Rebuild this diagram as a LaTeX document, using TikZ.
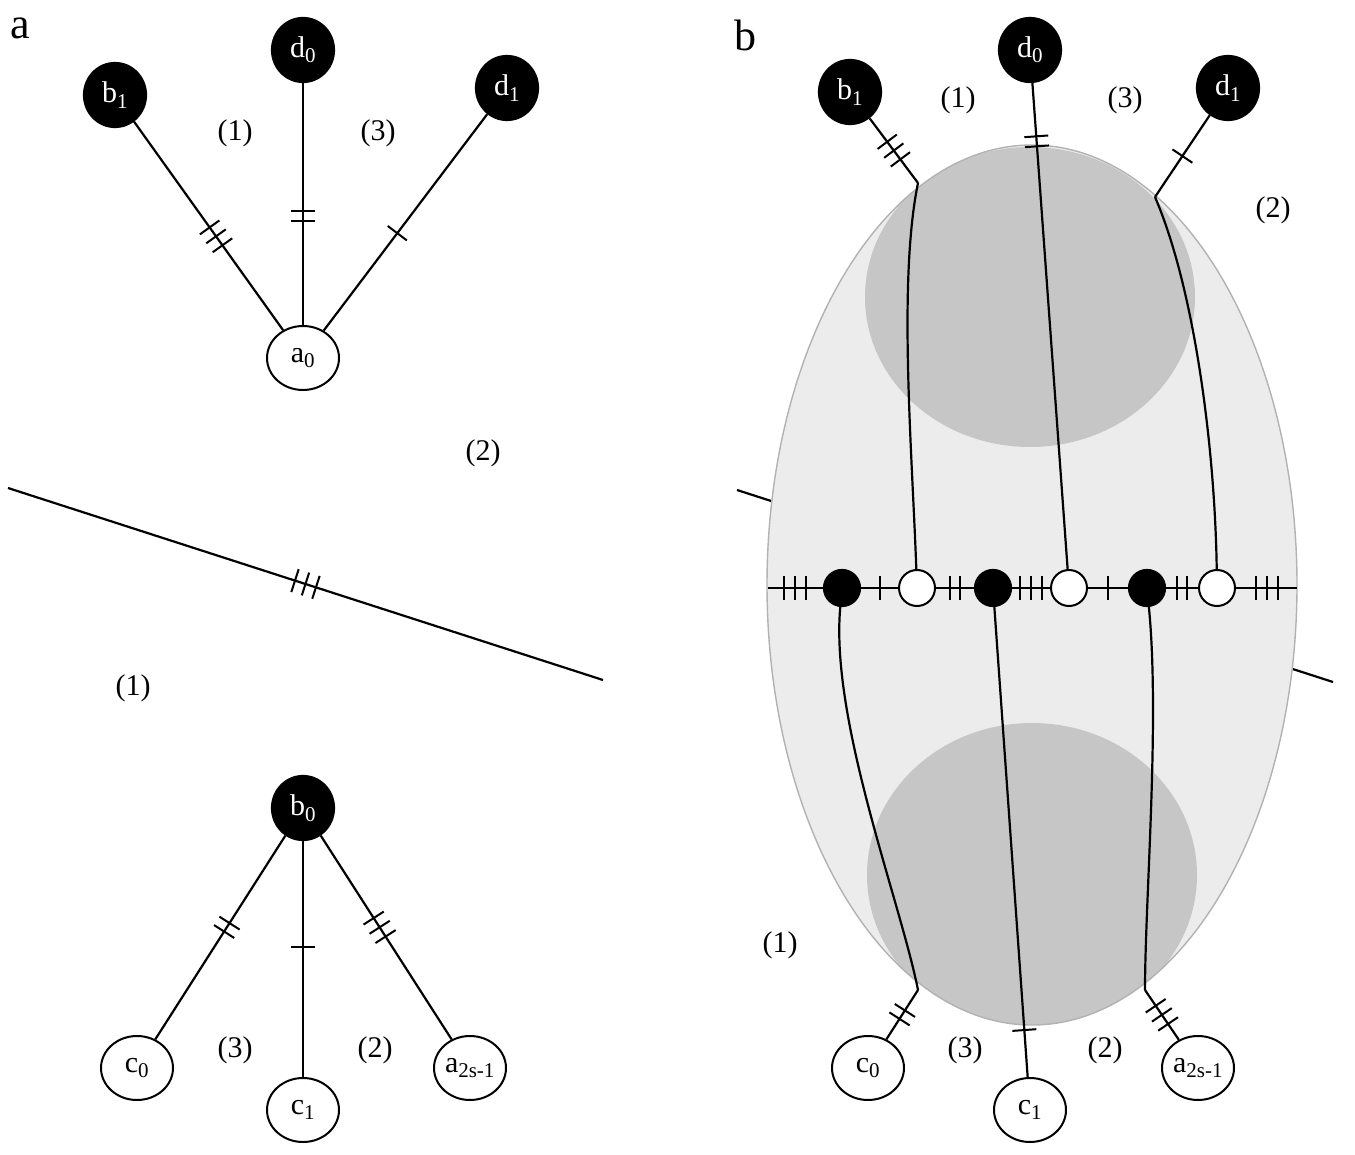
\documentclass[tikz,border=0pt]{standalone}
\usepackage{fontspec}
\setmainfont{Liberation Serif}
\usetikzlibrary{decorations.markings,shapes.geometric}
\begin{document}
\begin{tikzpicture}[x=1pt,y=-1pt,line width=2.2pt,
  every node/.style={font=\fontsize{30}{34}\selectfont},
  bn/.style={ellipse,draw=black,fill=black,text=white,minimum width=62,minimum height=64,inner sep=0},
  wn/.style={ellipse,draw=black,fill=white,minimum width=72,minimum height=64,inner sep=0,line width=2pt},
  bs/.style={circle,draw=black,fill=black,minimum size=36,inner sep=0},
  ws/.style={circle,draw=black,fill=white,minimum size=36,inner sep=0,line width=2pt},
  lab/.style={font=\fontsize{30}{34}\selectfont},
  big/.style={font=\fontsize{44}{48}\selectfont},
  t1/.style={postaction={decorate,decoration={markings,mark=at position #1 with {\draw[line width=2pt] (0,-12)--(0,12);}}}},
  t2/.style={postaction={decorate,decoration={markings,mark=at position #1 with {\draw[line width=2pt] (-5,-12)--(-5,12) (5,-12)--(5,12);}}}},
  t3/.style={postaction={decorate,decoration={markings,mark=at position #1 with {\draw[line width=2pt] (-11,-12)--(-11,12) (0,-12)--(0,12) (11,-12)--(11,12);}}}},
]
\useasboundingbox (0,0) rectangle (1355,1155);
% ---- panel a
\node[big] (la) at (20,28) {a};
\node[bn] (ab1) at (115,95) {b\textsubscript{1}};
\node[bn] (ad0) at (303,50) {d\textsubscript{0}};
\node[bn] (ad1) at (507,88) {d\textsubscript{1}};
\node[wn] (aa0) at (303,358) {a\textsubscript{0}};
\draw[t3=0.45] (aa0) -- (ab1);
\draw[t2=0.45] (aa0) -- (ad0);
\draw[t1=0.45] (aa0) -- (ad1);
\node[lab] at (235,133) {(1)};
\node[lab] at (378,133) {(3)};
\node[lab] at (483,453) {(2)};
\coordinate (L1) at (8,488);
\coordinate (L2) at (603,680);
\draw[t3=0.5] (L1) -- (L2);
\node[lab] at (133,688) {(1)};
\node[bn] (ab0) at (303,808) {b\textsubscript{0}};
\node[wn] (ac0) at (137,1068) {c\textsubscript{0}};
\node[wn] (ac1) at (303,1110) {c\textsubscript{1}};
\node[wn] (aa2) at (470,1068) {a\textsubscript{2s-1}};
\draw[t2=0.55] (ac0) -- (ab0);
\draw[t1=0.55] (ac1) -- (ab0);
\draw[t3=0.55] (aa2) -- (ab0);
\node[lab] at (235,1050) {(3)};
\node[lab] at (375,1050) {(2)};
% ---- panel b
\node[big] (lb) at (745,35) {b};
\coordinate (M1) at (737,490);
\coordinate (M2) at (1333,682);
\draw (M1) -- (M2);
\begin{scope}
  \fill[gray!15] (1032,585) ellipse [x radius=265,y radius=440];
  \clip (1032,585) ellipse [x radius=265,y radius=440];
  \fill[gray!45] (1030,297) ellipse [x radius=165,y radius=150];
  \fill[gray!45] (1032,875) ellipse [x radius=165,y radius=152];
\end{scope}
\draw[gray!60,line width=1.4pt] (1032,585) ellipse [x radius=265,y radius=440];
\coordinate (H1) at (768,588);
\coordinate (H2) at (1297,588);
\node[bs] (k1) at (842,588) {};
\node[ws] (w1) at (917,588) {};
\node[bs] (k2) at (993,588) {};
\node[ws] (w2) at (1069,588) {};
\node[bs] (k3) at (1147,588) {};
\node[ws] (w3) at (1217,588) {};
\draw[t3=0.5] (H1) -- (k1);
\draw[t1=0.5] (k1) -- (w1);
\draw[t2=0.5] (w1) -- (k2);
\draw[t3=0.5] (k2) -- (w2);
\draw[t1=0.5] (w2) -- (k3);
\draw[t2=0.5] (k3) -- (w3);
\draw[t3=0.5] (w3) -- (H2);
\node[bn] (bb1) at (850,92) {b\textsubscript{1}};
\node[bn] (bd0) at (1030,50) {d\textsubscript{0}};
\node[bn] (bd1) at (1228,88) {d\textsubscript{1}};
\coordinate (p1) at (918,183);
\coordinate (p3) at (1155,197);
\draw[t3=0.5] (bb1) -- (p1);
\draw (p1) .. controls (898,280) and (912,450) .. (w1);
\draw[t2=0.12] (bd0) -- (w2);
\draw[t1=0.5] (bd1) -- (p3);
\draw (p3) .. controls (1195,290) and (1215,450) .. (w3);
\node[wn] (bc0) at (868,1068) {c\textsubscript{0}};
\node[wn] (bc1) at (1030,1110) {c\textsubscript{1}};
\node[wn] (ba2) at (1198,1068) {a\textsubscript{2s-1}};
\coordinate (q1) at (918,990);
\coordinate (q3) at (1145,990);
\draw (k1) .. controls (830,720) and (900,900) .. (q1);
\draw[t2=0.5] (q1) -- (bc0);
\draw[t1=0.9] (k2) -- (bc1);
\draw (k3) .. controls (1160,720) and (1145,900) .. (q3);
\draw[t3=0.5] (q3) -- (ba2);
\node[lab] at (958,100) {(1)};
\node[lab] at (1125,100) {(3)};
\node[lab] at (1273,210) {(2)};
\node[lab] at (780,945) {(1)};
\node[lab] at (965,1050) {(3)};
\node[lab] at (1105,1050) {(2)};
\end{tikzpicture}
\end{document}
